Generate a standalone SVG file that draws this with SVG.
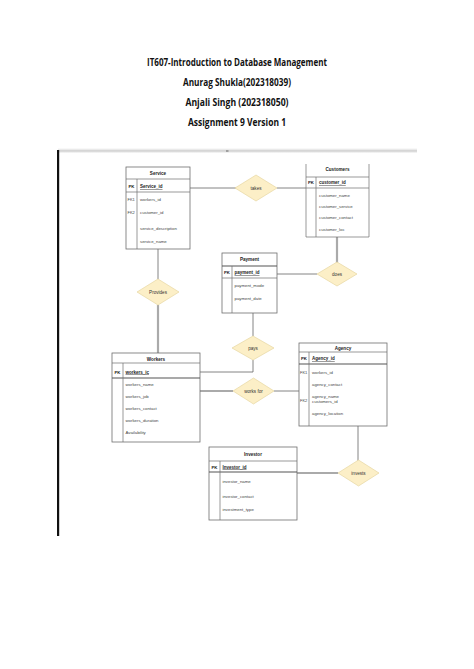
<svg xmlns="http://www.w3.org/2000/svg" width="474" height="669" viewBox="0 0 474 669">
<defs>
<linearGradient id="shadow" x1="0" y1="0" x2="0" y2="1">
<stop offset="0" stop-color="#ffffff"/>
<stop offset="0.5" stop-color="#dcdcdc"/>
<stop offset="1" stop-color="#f6f6f6"/>
</linearGradient>
</defs>
<style>
.title{font-family:"Open Sans","Liberation Sans",sans-serif;font-weight:bold;font-size:10px;fill:#111;text-anchor:middle}
.box{fill:#fff;stroke:#6e6e6e;stroke-width:0.8}
.ln{stroke:#6e6e6e;stroke-width:0.7;fill:none}
.thick{stroke:#555;stroke-width:1.2;fill:none}
.hdr{font-family:"Liberation Sans",Arial,sans-serif;font-size:4.6px;font-weight:bold;fill:#222;text-anchor:middle}
.pk{font-family:"Liberation Sans",Arial,sans-serif;font-size:4.3px;font-weight:bold;fill:#222}
.pkn{font-family:"Liberation Sans",Arial,sans-serif;font-size:4.5px;fill:#222;text-decoration:underline;font-weight:bold}
.fk{font-family:"Liberation Sans",Arial,sans-serif;font-size:4px;fill:#444}
.at{font-family:"Liberation Sans",Arial,sans-serif;font-size:4.3px;fill:#444}
.dia{fill:#fcefc7;stroke:#e6d7a2;stroke-width:0.7}
.dt{font-family:"Liberation Sans",Arial,sans-serif;font-size:4.6px;fill:#333;text-anchor:middle}
.con{stroke:#666;stroke-width:0.8;fill:none}
.cong{stroke:#aaa;stroke-width:2.2;fill:none}
</style>
<rect width="474" height="669" fill="#fff"/>
<g id="titles">
<text class="title" x="237" y="66" textLength="180" lengthAdjust="spacingAndGlyphs">IT607-Introduction to Database Management</text>
<text class="title" x="237" y="86" textLength="108" lengthAdjust="spacingAndGlyphs">Anurag Shukla(202318039)</text>
<text class="title" x="237" y="106" textLength="103" lengthAdjust="spacingAndGlyphs">Anjali Singh (202318050)</text>
<text class="title" x="237" y="126" textLength="98" lengthAdjust="spacingAndGlyphs">Assignment 9 Version 1</text>
</g>
<g id="frame">
<rect x="58" y="148" width="359" height="5" fill="url(#shadow)"/>
<line x1="58" y1="151" x2="417" y2="151" stroke="#d0d0d0" stroke-width="1"/>
<line x1="226" y1="151" x2="228.5" y2="151" stroke="#666" stroke-width="1"/>
<rect x="57" y="150" width="2.2" height="386" fill="#111"/>
</g>
<g id="connectors">
<line class="con" x1="190" y1="188" x2="236" y2="188"/>
<line class="con" x1="277" y1="188" x2="306" y2="188"/>
<line class="cong" x1="337" y1="237" x2="337" y2="263"/>
<line class="con" x1="277" y1="274" x2="317" y2="274"/>
<line class="con" x1="158" y1="249" x2="158" y2="279"/>
<line class="cong" x1="158" y1="305" x2="158" y2="353"/>
<line class="con" x1="253" y1="313" x2="253" y2="336"/>
<polyline class="con" points="253,360 253,372 200,372"/>
<line class="cong" x1="200" y1="391" x2="233" y2="391"/>
<line class="con" x1="274" y1="391" x2="299" y2="391"/>
<line class="con" x1="358" y1="426" x2="358" y2="461"/>
<line class="cong" x1="297" y1="473" x2="338" y2="473"/>
</g>
<g id="service">
<rect class="box" x="126" y="167" width="64" height="82"/>
<line class="ln" x1="126" y1="179" x2="190" y2="179"/>
<line class="ln" x1="126" y1="192" x2="190" y2="192"/>
<line class="ln" x1="137" y1="179" x2="137" y2="249"/>
<text class="hdr" x="158" y="175">Service</text>
<text class="pk" x="128.5" y="188">PK</text>
<text class="pkn" x="140" y="188">Service_id</text>
<text class="fk" x="127.5" y="201">FK1</text>
<text class="at" x="140" y="201">workers_id</text>
<text class="fk" x="127.5" y="214">FK2</text>
<text class="at" x="140" y="214">customer_id</text>
<text class="at" x="140" y="229.5">service_description</text>
<text class="at" x="140" y="242.5">service_name</text>
</g>
<g id="takes">
<polygon class="dia" points="235,188 256,175 277,188 256,201"/>
<text class="dt" x="256" y="189.6">takes</text>
</g>
<g id="customers">
<rect x="306" y="164" width="63" height="73" fill="#fff"/>
<polyline class="ln" points="306,164 306,237 369,237 369,164"/>
<line class="ln" x1="306" y1="177" x2="369" y2="177"/>
<line class="ln" x1="306" y1="188" x2="369" y2="188"/>
<line class="ln" x1="316" y1="177" x2="316" y2="237"/>
<text class="hdr" x="337.5" y="171">Customers</text>
<text class="pk" x="308" y="184">PK</text>
<text class="pkn" x="319" y="184">customer_id</text>
<text class="at" x="319" y="196.5">customer_name</text>
<text class="at" x="319" y="207.5">customer_service</text>
<text class="at" x="319" y="218.5">customer_contact</text>
<text class="at" x="319" y="230.5">customer_loc</text>
</g>
<g id="does">
<polygon class="dia" points="317,274 337,262 357,274 337,286"/>
<text class="dt" x="337" y="275.6">does</text>
</g>
<g id="payment">
<rect class="box" x="222" y="253" width="55" height="60"/>
<line class="thick" x1="222" y1="266" x2="277" y2="266"/>
<line class="ln" x1="222" y1="278" x2="277" y2="278"/>
<line class="ln" x1="232" y1="266" x2="232" y2="313"/>
<text class="hdr" x="249.5" y="261">Payment</text>
<text class="pk" x="224" y="274">PK</text>
<text class="pkn" x="234.5" y="274">payment_id</text>
<text class="at" x="234.5" y="286.5">payment_mode</text>
<text class="at" x="234.5" y="299.5">payment_date</text>
</g>
<g id="provides">
<polygon class="dia" points="137,292 158,279 179,292 158,305"/>
<text class="dt" x="158" y="293.6">Provides</text>
</g>
<g id="pays">
<polygon class="dia" points="232,348 253,336 274,348 253,360"/>
<text class="dt" x="253" y="349.6">pays</text>
</g>
<g id="workers">
<rect class="box" x="112" y="353" width="88" height="89"/>
<line class="ln" x1="112" y1="363" x2="200" y2="363"/>
<line class="thick" x1="112" y1="378" x2="200" y2="378"/>
<line class="ln" x1="123" y1="363" x2="123" y2="442"/>
<text class="hdr" x="156" y="360.5">Workers</text>
<text class="pk" x="114.5" y="373.5">PK</text>
<text class="pkn" x="125.5" y="373.5">workers_ic</text>
<text class="at" x="125.5" y="385.5">workers_name</text>
<text class="at" x="125.5" y="397.5">workers_job</text>
<text class="at" x="125.5" y="410">workers_contact</text>
<text class="at" x="125.5" y="422">workers_duration</text>
<text class="at" x="125.5" y="434">Availability</text>
</g>
<g id="worksfor">
<polygon class="dia" points="233,391 253.5,378 274,391 253.5,404"/>
<text class="dt" x="253.5" y="392.6">works for</text>
</g>
<g id="agency">
<rect class="box" x="299" y="343" width="88" height="83"/>
<line class="ln" x1="299" y1="352" x2="387" y2="352"/>
<line class="thick" x1="299" y1="364" x2="387" y2="364"/>
<line class="ln" x1="309" y1="352" x2="309" y2="426"/>
<text class="hdr" x="343" y="349.5">Agency</text>
<text class="pk" x="301" y="360">PK</text>
<text class="pkn" x="312" y="360">Agency_id</text>
<text class="fk" x="300" y="373.5">FK1</text>
<text class="at" x="312" y="373.5">workers_id</text>
<text class="at" x="312" y="385.5">agency_contact</text>
<text class="at" x="312" y="397.5">agency_name</text>
<text class="fk" x="300" y="402">FK2</text>
<text class="at" x="312" y="402.5">customers_id</text>
<text class="at" x="312" y="414.5">agency_location</text>
</g>
<g id="invests">
<polygon class="dia" points="338,473 358.5,460 379,473 358.5,486"/>
<text class="dt" x="358.5" y="474.6">invests</text>
</g>
<g id="investor">
<rect class="box" x="209" y="447" width="88" height="73"/>
<line class="ln" x1="209" y1="461" x2="297" y2="461"/>
<line class="thick" x1="209" y1="472" x2="297" y2="472"/>
<line class="ln" x1="220" y1="461" x2="220" y2="520"/>
<text class="hdr" x="253" y="456">Investor</text>
<text class="pk" x="211.5" y="468.5">PK</text>
<text class="pkn" x="222.5" y="468.5">Investor_id</text>
<text class="at" x="222.5" y="483">investor_name</text>
<text class="at" x="222.5" y="498">investor_contact</text>
<text class="at" x="222.5" y="511">investment_type</text>
</g>
</svg>
